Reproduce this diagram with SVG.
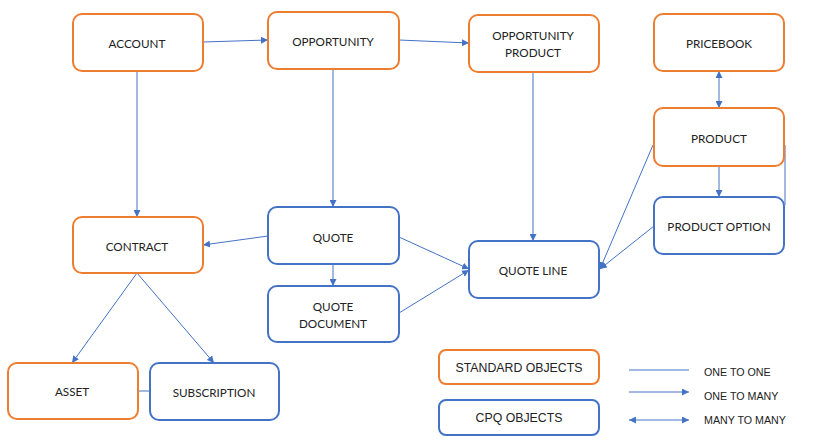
<svg xmlns="http://www.w3.org/2000/svg" width="814" height="445" viewBox="0 0 814 445">
<defs>
<style>
.std{fill:#fff;stroke:#ED7D31;stroke-width:2}
.cpq{fill:#fff;stroke:#4472C4;stroke-width:2}
.t{font-family:Lato,"Open Sans","Liberation Sans",sans-serif;font-size:11.7px;fill:#222;text-anchor:middle;dominant-baseline:central}
.lg{font-family:"Liberation Sans",Arial,sans-serif;font-size:10.7px;fill:#222;dominant-baseline:central}
.lb{font-family:"Liberation Sans",Arial,sans-serif;font-size:12.3px;fill:#222;text-anchor:middle;dominant-baseline:central}
.c{stroke:#4472C4;stroke-width:1;fill:none}
</style>
<marker id="ah" viewBox="0 0 8 8" refX="8" refY="4" markerWidth="7" markerHeight="7" markerUnits="userSpaceOnUse" orient="auto-start-reverse">
<path d="M0,0 L8,4 L0,8 z" fill="#4472C4"/>
</marker>
</defs>
<rect width="814" height="445" fill="#fff"/>
<g id="connectors">
<line class="c" x1="203" y1="42" x2="268" y2="40" marker-end="url(#ah)"/>
<line class="c" x1="399" y1="40" x2="469" y2="43" marker-end="url(#ah)"/>
<line class="c" x1="137" y1="71" x2="137" y2="217" marker-end="url(#ah)"/>
<line class="c" x1="333" y1="69" x2="333" y2="207" marker-end="url(#ah)"/>
<line class="c" x1="533" y1="72" x2="533" y2="241" marker-end="url(#ah)"/>
<line class="c" x1="719" y1="71" x2="719" y2="108" marker-start="url(#ah)" marker-end="url(#ah)"/>
<line class="c" x1="719" y1="166" x2="719" y2="197" marker-end="url(#ah)"/>
<line class="c" x1="653" y1="145" x2="600" y2="269" marker-end="url(#ah)"/>
<line class="c" x1="654" y1="226" x2="600" y2="269" marker-end="url(#ah)"/>
<line class="c" x1="785" y1="145" x2="785" y2="205"/>
<line class="c" x1="268" y1="236" x2="203" y2="245" marker-end="url(#ah)"/>
<line class="c" x1="333" y1="264" x2="333" y2="286" marker-end="url(#ah)"/>
<line class="c" x1="399" y1="237" x2="469" y2="269" marker-end="url(#ah)"/>
<line class="c" x1="399" y1="313" x2="469" y2="270" marker-end="url(#ah)"/>
<line class="c" x1="137" y1="273" x2="72" y2="363" marker-end="url(#ah)"/>
<line class="c" x1="137" y1="273" x2="214" y2="363" marker-end="url(#ah)"/>
<line class="c" x1="138" y1="391" x2="150" y2="391"/>
</g>
<g id="account"><rect class="std" x="73" y="14" width="130" height="57" rx="9"/><text class="t" x="137" y="43">ACCOUNT</text></g>
<g id="opportunity"><rect class="std" x="268" y="12" width="131" height="57" rx="9"/><text class="t" x="333" y="41">OPPORTUNITY</text></g>
<g id="opportunity-product"><rect class="std" x="469" y="15" width="130" height="57" rx="9"/><text class="t" x="533" y="35">OPPORTUNITY</text><text class="t" x="533" y="52">PRODUCT</text></g>
<g id="pricebook"><rect class="std" x="654" y="14" width="130" height="57" rx="9"/><text class="t" x="719" y="43">PRICEBOOK</text></g>
<g id="product"><rect class="std" x="654" y="108" width="130" height="58" rx="9"/><text class="t" x="719" y="138">PRODUCT</text></g>
<g id="product-option"><rect class="cpq" x="654" y="197" width="130" height="57" rx="9"/><text class="t" x="719" y="226">PRODUCT OPTION</text></g>
<g id="contract"><rect class="std" x="73" y="217" width="130" height="56" rx="9"/><text class="t" x="137" y="246">CONTRACT</text></g>
<g id="quote"><rect class="cpq" x="268" y="207" width="131" height="57" rx="9"/><text class="t" x="333" y="237">QUOTE</text></g>
<g id="quote-document"><rect class="cpq" x="268" y="286" width="131" height="56" rx="9"/><text class="t" x="333" y="306">QUOTE</text><text class="t" x="333" y="323">DOCUMENT</text></g>
<g id="quote-line"><rect class="cpq" x="469" y="241" width="130" height="57" rx="9"/><text class="t" x="533" y="270">QUOTE LINE</text></g>
<g id="asset"><rect class="std" x="8" y="363" width="130" height="56" rx="9"/><text class="t" x="72" y="391">ASSET</text></g>
<g id="subscription"><rect class="cpq" x="150" y="363" width="129" height="57" rx="9"/><text class="t" x="214" y="392">SUBSCRIPTION</text></g>
<g id="legend">
<rect class="std" x="439" y="350" width="160" height="34" rx="7"/>
<text class="lb" x="519" y="368">STANDARD OBJECTS</text>
<rect class="cpq" x="439" y="400" width="160" height="35" rx="7"/>
<text class="lb" x="519" y="418">CPQ OBJECTS</text>
<line class="c" x1="629" y1="370" x2="689" y2="370"/>
<line class="c" x1="629" y1="392" x2="689" y2="392" marker-end="url(#ah)"/>
<line class="c" x1="629" y1="420" x2="689" y2="420" marker-start="url(#ah)" marker-end="url(#ah)"/>
<text class="lg" x="704" y="372">ONE TO ONE</text>
<text class="lg" x="704" y="396">ONE TO MANY</text>
<text class="lg" x="704" y="420">MANY TO MANY</text>
</g>
</svg>
